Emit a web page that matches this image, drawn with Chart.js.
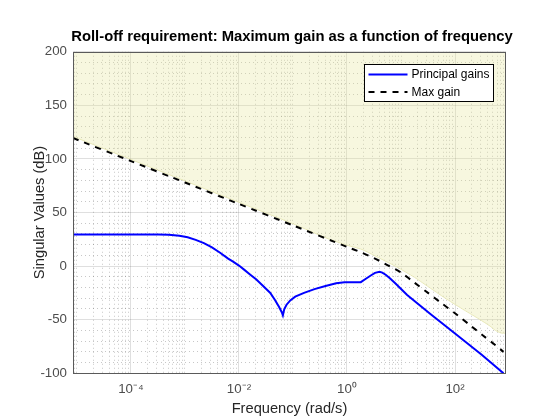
<!DOCTYPE html>
<html>
<head>
<meta charset="utf-8">
<script src="https://cdn.jsdelivr.net/npm/chart.js@4.4.0/dist/chart.umd.min.js"></script>
<style>
  body { margin: 0; background: #fff; }
</style>
</head>
<body>
<canvas id="grafico" width="560" height="420"></canvas>
<script>
// valores (frecuencia en rad/s, ganancia en dB)
var frecPrincipal = [8.45e-6, 1e-4, 3.2e-4, 5e-4, 7.9e-4, 1.12e-3, 1.58e-3, 2.24e-3, 3.16e-3, 4.47e-3, 6.3e-3, 7.9e-3, 1e-2, 1.26e-2, 1.58e-2, 2.1e-2, 2.8e-2, 3.8e-2, 4.7e-2, 5.5e-2, 6.2e-2, 6.5e-2, 6.9e-2, 7.6e-2, 8.9e-2, 0.11, 0.16, 0.25, 0.4, 0.63, 0.9, 1.8, 2.2, 2.8, 3.3, 4, 4.5, 5.2, 6.3, 8, 13, 35, 100, 316, 790];
var gananciaPrincipal = [29.5, 29.5, 29.4, 29.3, 28.4, 26.9, 24.5, 21.5, 17.5, 12.5, 7, 4, 0.5, -3.5, -7.5, -12.5, -18.5, -25, -32, -38, -43, -46, -40, -36, -32, -28.5, -25, -21.5, -18.5, -16, -15, -15, -12, -8.5, -6.3, -5.3, -6, -8, -11.5, -16.5, -27, -44.7, -62.8, -82.9, -100];

var frecMax = [8.45e-6, 1e-4, 1e-3, 1e-2, 0.1, 1, 1.78, 3.16, 5.6, 10, 17.8, 31.6, 56, 100, 178, 316, 562, 790];
var gananciaMax = [119.5, 98, 78, 58, 38, 18, 13, 7.5, 1, -6, -15.5, -25, -34.5, -44, -54, -64, -73.8, -80];

// borde de la zona sombreada (prohibida)
var frecZona = [8.45e-6, 1e-4, 1e-3, 1e-2, 0.1, 0.45, 1, 1.9, 3.16, 8.3, 17.8, 35.5, 71, 148, 282, 447, 560, 700, 879];
var limiteZona = [121, 99.5, 79.5, 59.5, 39.5, 25.5, 19.5, 15.5, 10, -0.7, -10.5, -20.8, -31, -41, -49.5, -56, -60, -62.3, -62.7];

var limitesX = [8.45e-6, 879];
var ticksX = [1e-4, 1e-2, 1e0, 1e2];
var etiquetasX = ["10\u207B\u2074", "10\u207B\u00B2", "10\u2070", "10\u00B2"];
var ticksY = [-100, -50, 0, 50, 100, 150, 200];

function puntos(xs, ys) {
  return xs.map(function(x, i) { return {x: x, y: ys[i]}; });
}

// rejilla menor: 2..9 de cada decada y decadas sin etiqueta
var menoresX = [];
for (var k = -6; k <= 2; k++) {
  for (var m = 1; m <= 9; m++) {
    var v = m * Math.pow(10, k);
    if (m == 1 && ticksX.indexOf(Math.pow(10, k)) >= 0) continue;
    if (v > limitesX[0] && v < limitesX[1]) menoresX.push(v);
  }
}
var menoresY = [];
for (var t = -90; t < 200; t += 10) {
  if (t % 50 != 0) menoresY.push(t);
}

var fuente = "'Liberation Sans', Arial, sans-serif";
var colorTexto = "#262626";
var colorTicks = "#4d4d4d";
var gridMayor = "rgba(38,38,38,0.15)";
var gridMenor = "rgba(0,0,0,0.22)";

// caja de los ejes
var caja = {
  id: "caja",
  afterDatasetsDraw: function(chart) {
    var a = chart.chartArea, ctx = chart.ctx;
    ctx.save();
    ctx.strokeStyle = "#5a5a5a";
    ctx.lineWidth = 1;
    ctx.strokeRect(Math.round(a.left) + 0.5, Math.round(a.top) + 0.5, Math.round(a.right - a.left) - 1, Math.round(a.bottom - a.top) - 1);
    ctx.restore();
  }
};

// leyenda con recuadro dentro del area
var leyenda = {
  id: "leyenda",
  afterDraw: function(chart) {
    var a = chart.chartArea, ctx = chart.ctx;
    var x = Math.round(a.right) - 141.5, y = Math.round(a.top) + 12.5;
    var w = 129, h = 37;
    ctx.save();
    ctx.fillStyle = "#fff";
    ctx.fillRect(x, y, w, h);
    ctx.strokeStyle = "#000";
    ctx.lineWidth = 1;
    ctx.strokeRect(x, y, w, h);
    var items = chart.data.datasets.filter(function(d) { return d.enLeyenda; });
    items.forEach(function(d, i) {
      var yy = y + 10 + i * 17.5;
      ctx.beginPath();
      ctx.strokeStyle = d.borderColor;
      ctx.lineWidth = d.borderWidth;
      ctx.setLineDash(d.borderDash || []);
      ctx.moveTo(x + 4, yy);
      ctx.lineTo(x + 43, yy);
      ctx.stroke();
      ctx.setLineDash([]);
      ctx.fillStyle = "#000";
      ctx.font = "12px " + fuente;
      ctx.textBaseline = "middle";
      ctx.fillText(d.label, x + 47, yy + 0.5);
    });
    ctx.restore();
  }
};

new Chart(document.getElementById("grafico"), {
  type: "line",
  data: {
    datasets: [
      {
        label: "Principal gains",
        data: puntos(frecPrincipal, gananciaPrincipal),
        borderColor: "#0000ff",
        borderWidth: 2,
        pointRadius: 0,
        tension: 0,
        fill: false,
        enLeyenda: true
      },
      {
        label: "Max gain",
        data: puntos(frecMax, gananciaMax),
        borderColor: "#000000",
        borderWidth: 2,
        borderDash: [6, 6],
        pointRadius: 0,
        tension: 0.2,
        fill: false,
        enLeyenda: true
      },
      {
        label: "zona",
        data: puntos(frecZona, limiteZona),
        borderColor: "rgb(232,232,185)",
        borderWidth: 1,
        backgroundColor: "rgba(230,230,150,0.3)",
        pointRadius: 0,
        tension: 0.2,
        fill: "end"
      }
    ]
  },
  options: {
    responsive: false,
    animation: false,
    devicePixelRatio: 1,
    layout: { padding: { left: 24, right: 0, top: 0, bottom: 0 } },
    plugins: {
      legend: { display: false },
      tooltip: { enabled: false },
      title: {
        display: true,
        text: "Roll-off requirement: Maximum gain as a function of frequency",
        color: "#000",
        font: { family: fuente, size: 14.8, weight: "bold" },
        padding: { top: 28, bottom: 6 }
      }
    },
    scales: {
      x: {
        type: "logarithmic",
        min: limitesX[0],
        max: limitesX[1],
        position: "bottom",
        afterBuildTicks: function(scale) {
          scale.ticks = ticksX.map(function(v) { return {value: v}; });
        },
        afterFit: function(scale) { scale.height = 46.7; },
        ticks: {
          color: colorTicks,
          padding: 8,
          maxRotation: 0,
          autoSkip: false,
          font: { family: fuente, size: 13.3 },
          callback: function(value, index) { return etiquetasX[index]; }
        },
        grid: { color: gridMayor, drawTicks: false },
        border: { display: false },
        title: {
          display: true,
          text: "Frequency (rad/s)",
          color: colorTexto,
          font: { family: fuente, size: 14.67 },
          padding: { top: 0, bottom: 2 }
        }
      },
      xMenor: {
        type: "logarithmic",
        min: limitesX[0],
        max: limitesX[1],
        position: "bottom",
        afterBuildTicks: function(scale) {
          scale.ticks = menoresX.map(function(v) { return {value: v}; });
        },
        afterFit: function(scale) { scale.height = 0; },
        ticks: { display: false },
        grid: { color: gridMenor, drawTicks: false },
        border: { display: false, dash: [1, 3] }
      },
      y: {
        type: "linear",
        min: -100,
        max: 200,
        position: "left",
        afterBuildTicks: function(scale) {
          scale.ticks = ticksY.map(function(v) { return {value: v}; });
        },
        afterFit: function(scale) { scale.width = 49; },
        ticks: {
          color: colorTicks,
          padding: 6,
          font: { family: fuente, size: 13.3 }
        },
        grid: { color: gridMayor, drawTicks: false },
        border: { display: false },
        title: {
          display: true,
          text: "Singular Values (dB)",
          color: colorTexto,
          font: { family: fuente, size: 14.67 },
          padding: { top: 7, bottom: 0 }
        }
      },
      yMenor: {
        type: "linear",
        min: -100,
        max: 200,
        position: "right",
        afterBuildTicks: function(scale) {
          scale.ticks = menoresY.map(function(v) { return {value: v}; });
        },
        afterFit: function(scale) { scale.width = 54; },
        ticks: { display: false },
        grid: { color: gridMenor, drawTicks: false },
        border: { display: false, dash: [1, 3] }
      }
    }
  },
  plugins: [caja, leyenda]
});
</script>
</body>
</html>
